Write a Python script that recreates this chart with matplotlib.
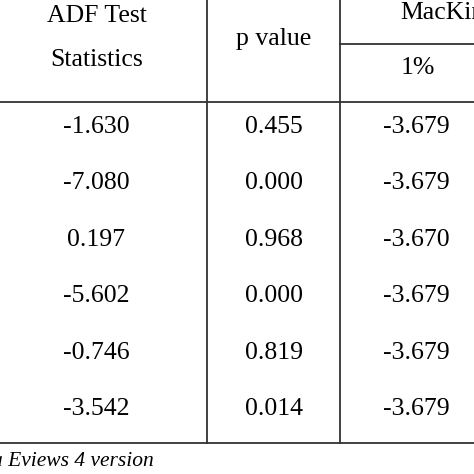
import matplotlib.pyplot as plt

adf_stat = ['-1.630', '-7.080', '0.197', '-5.602', '-0.746', '-3.542']
p_value = ['0.455', '0.000', '0.968', '0.000', '0.819', '0.014']
crit_1pct = ['-3.679', '-3.679', '-3.670', '-3.679', '-3.679', '-3.679']

plt.rcParams['font.family'] = ['Liberation Serif', 'DejaVu Serif']

fig = plt.figure(figsize=(4.74, 4.74), dpi=100)
ax = fig.add_axes([0, 0, 1, 1])
ax.set_xlim(0, 474)
ax.set_ylim(474, 0)
ax.axis('off')

lc = '#333333'
lw = 1.3
# grid lines
ax.plot([207, 207], [0, 443], color=lc, lw=lw)
ax.plot([340, 340], [0, 443], color=lc, lw=lw)
ax.plot([340, 474], [44, 44], color=lc, lw=lw)
ax.plot([0, 474], [102, 102], color=lc, lw=lw)
ax.plot([0, 474], [443, 443], color=lc, lw=lw)

fs = 18.5
ax.text(97, 16, 'ADF Test', ha='center', va='center', fontsize=fs)
ax.text(97, 60, 'Statistics', ha='center', va='center', fontsize=fs)
ax.text(274, 39, 'p value', ha='center', va='center', fontsize=fs)
ax.text(400, 13, 'MacKinnon', ha='left', va='center', fontsize=fs)
ax.text(418, 68, '1%', ha='center', va='center', fontsize=fs)

y0, dy = 127, 56.4
for i in range(len(adf_stat)):
    y = y0 + i * dy
    ax.text(96, y, adf_stat[i], ha='center', va='center', fontsize=fs)
    ax.text(274, y, p_value[i], ha='center', va='center', fontsize=fs)
    ax.text(416, y, crit_1pct[i], ha='center', va='center', fontsize=fs)

ax.text(-8, 462, 'a Eviews 4 version', ha='left', va='center',
        fontsize=15.5, style='italic')

fig.savefig('out.png', dpi=100)
